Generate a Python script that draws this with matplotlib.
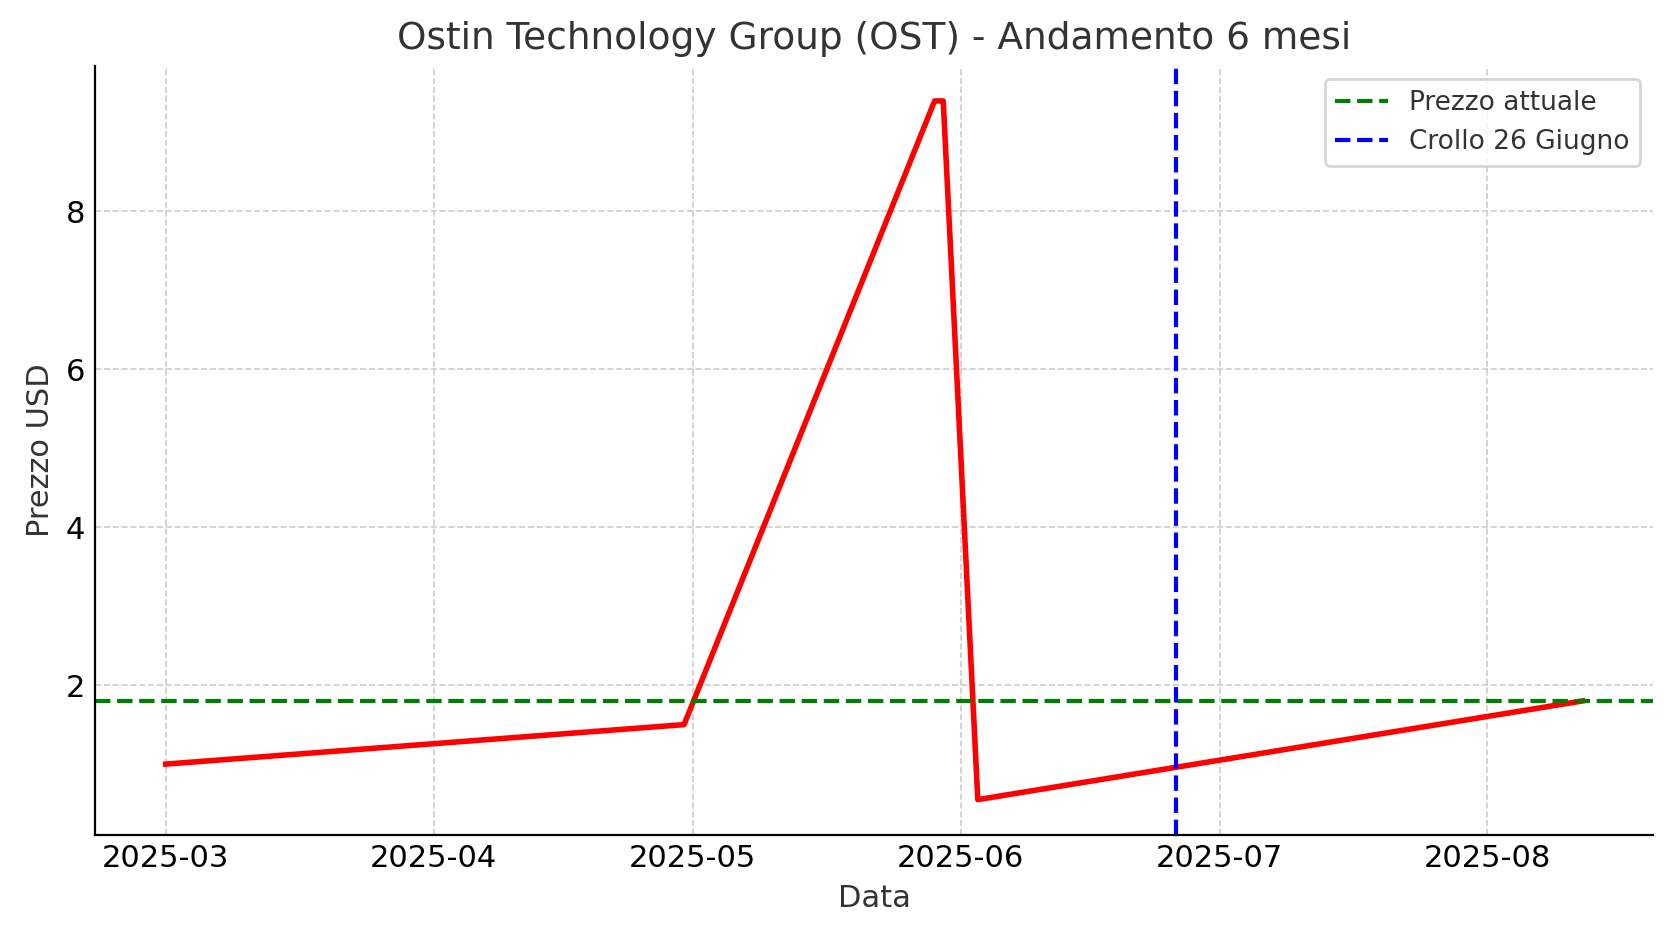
import matplotlib
matplotlib.use("Agg")
import matplotlib.pyplot as plt
import matplotlib.dates as mdates
import pandas as pd

dates = ["2025-03-01", "2025-04-30", "2025-05-29", "2025-05-30", "2025-06-03", "2025-08-12"]
prices = [1.0, 1.5, 9.4, 9.4, 0.55, 1.8]
current_price = 1.8
crash_date = "2025-06-26"

d = pd.to_datetime(dates)
fig, ax = plt.subplots(figsize=(8.325, 4.715), dpi=200)
ax.plot(d, prices, color="red", lw=2)
ax.axhline(current_price, color="green", ls="--", lw=1.5, label="Prezzo attuale")
ax.axvline(pd.to_datetime(crash_date), color="blue", ls="--", lw=1.5, label="Crollo 26 Giugno")
ax.grid(True, ls="--", color="#cccccc", lw=0.6)
ax.spines["top"].set_visible(False)
ax.spines["right"].set_visible(False)
ax.set_title("Ostin Technology Group (OST) - Andamento 6 mesi", fontsize=13.5, color="#333333")
ax.set_xlabel("Data", fontsize=11, color="#333333")
ax.set_ylabel("Prezzo USD", fontsize=11, color="#333333")
ax.tick_params(labelsize=11, length=0)
ax.legend(fontsize=9.5, loc="upper right", labelcolor="#333333")
fig.subplots_adjust(left=0.057, right=0.993, top=0.93, bottom=0.115)
ax.xaxis.set_major_formatter(mdates.DateFormatter("%Y-%m"))
fig.savefig("out.png")
